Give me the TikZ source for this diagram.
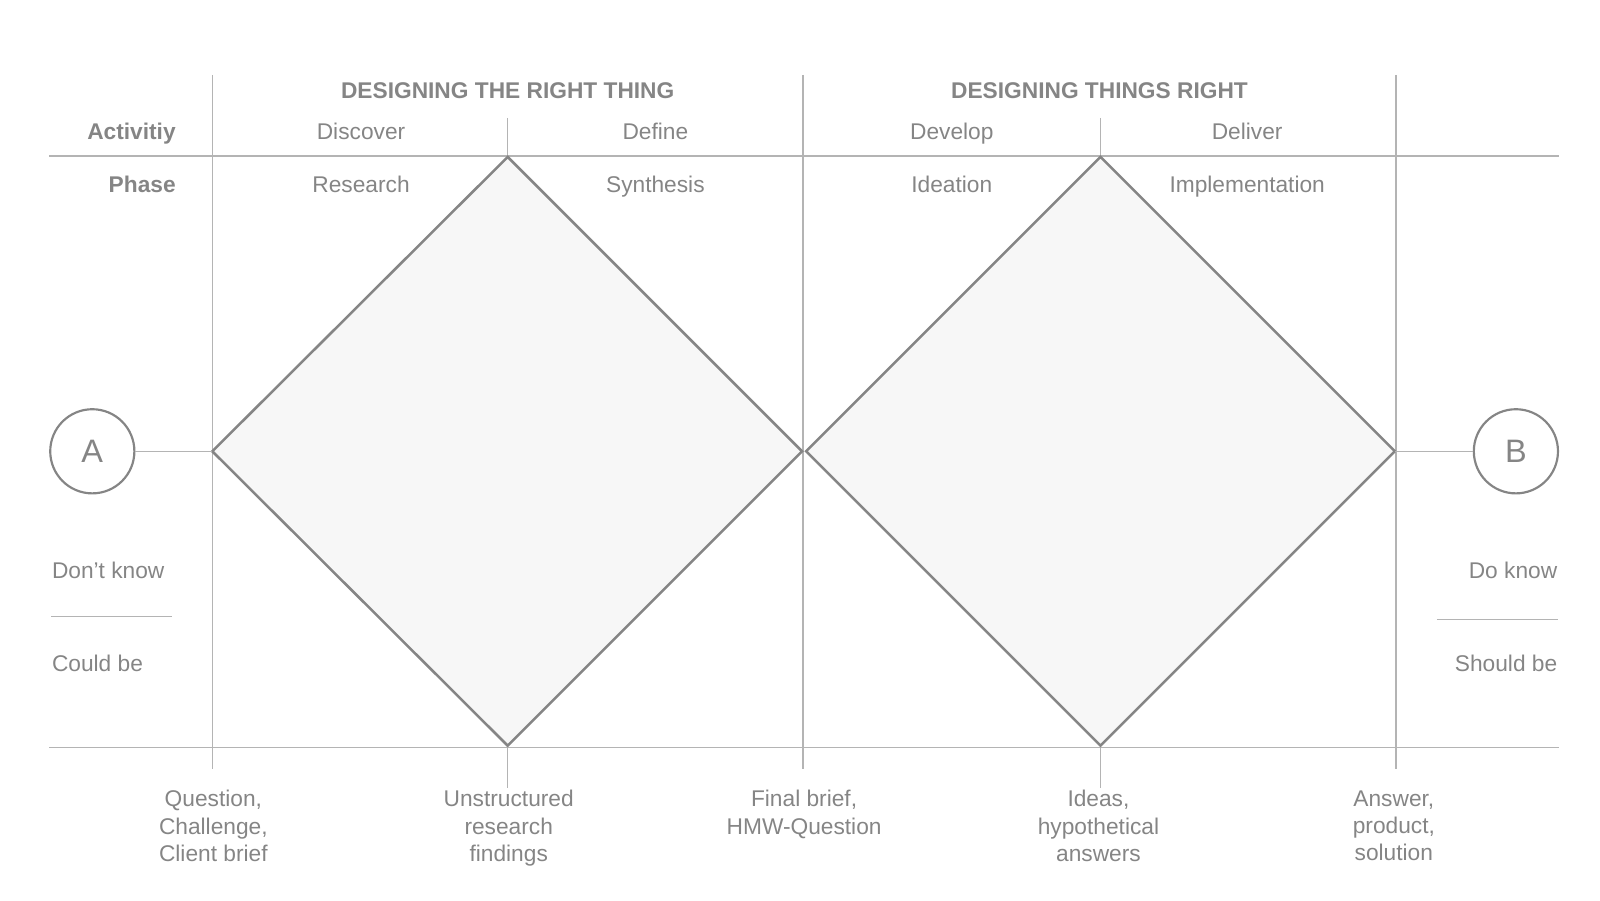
\documentclass[tikz,border=0pt]{standalone}
\usepackage{fontspec}
\setmainfont{Liberation Sans}
\usetikzlibrary{calc}
\definecolor{rule}{HTML}{B4B4B4}
\definecolor{ink}{HTML}{858585}
\definecolor{fillg}{HTML}{F7F7F7}
\newcommand{\fsize}{\fontsize{6.3}{7.6}\selectfont}
\tikzset{
  txt/.style={text=ink, font=\fsize, align=center, inner sep=0pt},
  head/.style={txt, font=\fsize\bfseries},
  grid/.style={rule, line width=0.35pt},
  diam/.style={draw=ink, fill=fillg, line width=0.7pt, line join=miter},
}
\begin{document}
\begin{tikzpicture}[x=0.01cm, y=-0.01cm]
\useasboundingbox (0,0) rectangle (1560,877.5);

% grid lines
\draw[grid] (48,152) -- (1520,152);
\draw[grid] (48,729) -- (1520,729);
\foreach \xx in {207, 783, 1361}
    \draw[grid] (\xx,73) -- (\xx,750);
\foreach \xx in {495, 1073} {
    \draw[grid] (\xx,115) -- (\xx,152);
    \draw[grid] (\xx,729) -- (\xx,768);
}
\draw[grid] (50,601) -- (168,601);
\draw[grid] (1401,604) -- (1519,604);

% diamonds
\coordinate (L1) at (207,440);
\coordinate (R1) at (782,440);
\coordinate (L2) at (786,440);
\coordinate (R2) at (1360,440);
\draw[diam] (L1) -- (495,153) -- (R1) -- (495,727) -- cycle;
\draw[diam] (L2) -- (1073,153) -- (R2) -- (1073,727) -- cycle;

% start and end
\node[circle, draw=ink, line width=0.6pt, minimum size=0.82cm, txt, font=\fontsize{9}{10}\selectfont] (A) at (90,440) {A};
\node[circle, draw=ink, line width=0.6pt, minimum size=0.82cm, txt, font=\fontsize{9}{10}\selectfont] (B) at (1478,440) {B};
\draw[grid] (A) -- (L1);
\draw[grid] (R2) -- (B);

% headings
\node[head, anchor=base] (h1) at (495,96) {DESIGNING THE RIGHT THING};
\node[head, anchor=base] (h2) at (1072,96) {DESIGNING THINGS RIGHT};
\node[head, anchor=base east] (act) at (172,136) {Activitiy};
\node[head, anchor=base east] (pha) at (172,188) {Phase};

\node[txt, anchor=base] (disc) at (352,136) {Discover};
\node[txt, anchor=base] (defi) at (639,136) {Define};
\node[txt, anchor=base] (deve) at (928,136) {Develop};
\node[txt, anchor=base] (deli) at (1216,136) {Deliver};
\node[txt, anchor=base] (rese) at (352,188) {Research};
\node[txt, anchor=base] (synt) at (639,188) {Synthesis};
\node[txt, anchor=base] (idea) at (928,188) {Ideation};
\node[txt, anchor=base] (impl) at (1216,188) {Implementation};

\node[txt, anchor=base west] (dk) at (50,564) {Don’t know};
\node[txt, anchor=base west] (cb) at (50,655) {Could be};
\node[txt, anchor=base east] (dok) at (1519,564) {Do know};
\node[txt, anchor=base east] (sb) at (1519,655) {Should be};

% outcomes
\node[txt, anchor=north] (o1) at (208,770) {Question,\\Challenge,\\Client brief};
\node[txt, anchor=north] (o2) at (496,770) {Unstructured\\research\\findings};
\node[txt, anchor=north] (o3) at (784,770) {Final brief,\\HMW-Question};
\node[txt, anchor=north] (o4) at (1071,770) {Ideas,\\hypothetical\\answers};
\node[txt, anchor=north] (o5) at (1359,770) {Answer,\\product,\\solution};
\end{tikzpicture}
\end{document}
